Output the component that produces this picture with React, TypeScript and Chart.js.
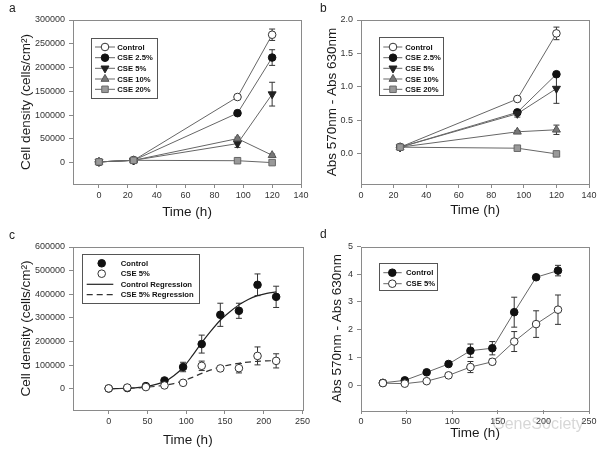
import React, { useEffect, useRef } from 'react';
import { Chart, registerables } from 'chart.js';
import { drawPoint } from 'chart.js/helpers';

Chart.register(...registerables);

// ---------------- Data ----------------
// Panel a: cell density
const A_TIME = [0, 24, 96, 120];
const A_LABELS = ['Control', 'CSE 2.5%', 'CSE 5%', 'CSE 10%', 'CSE 20%'];
const A_CONTROL = [1500, 4800, 138000, 269000];
const A_CSE2_5 = [1500, 4800, 104000, 221000];
const A_CSE5 = [1500, 4800, 40000, 144000];
const A_CSE10 = [1500, 4800, 50500, 15500];
const A_CSE20 = [1500, 4800, 4000, 0];
const A_CONTROL_ERR = [0, 0, 3000, 12000];
const A_CSE2_5_ERR = [0, 0, 3000, 16500];
const A_CSE5_ERR = [0, 0, 8000, 25000];
const A_CSE10_ERR = [0, 0, 3000, 2500];
const A_CSE20_ERR = [0, 0, 2000, 1000];
const A_X_TICKS = [0, 20, 40, 60, 80, 100, 120, 140];
const A_Y_TICKS = [0, 50000, 100000, 150000, 200000, 250000, 300000];

// Panel b: absorbance
const B_TIME = [24, 96, 120];
const B_CONTROL = [0.1, 0.82, 1.8];
const B_CSE2_5 = [0.1, 0.62, 1.19];
const B_CSE5 = [0.1, 0.6, 0.975];
const B_CSE10 = [0.1, 0.33, 0.36];
const B_CSE20 = [0.1, 0.085, 0.0];
const B_CONTROL_ERR = [0, 0.02, 0.094];
const B_CSE2_5_ERR = [0, 0.02, 0.03];
const B_CSE5_ERR = [0, 0.05, 0.22];
const B_CSE10_ERR = [0, 0.02, 0.07];
const B_CSE20_ERR = [0, 0.01, 0.01];
const B_X_TICKS = [0, 20, 40, 60, 80, 100, 120, 140];
const B_Y_TICKS = [0, 0.5, 1.0, 1.5, 2.0];

// Panel c: cell density time course with regression
const C_LABELS = ['Control', 'CSE 5%', 'Control Regression', 'CSE 5% Regression'];
const C_TIME = [0, 24, 48, 72, 96, 120, 144, 168, 192, 216];
const C_CONTROL = [1000, 3000, 11000, 35000, 92000, 189000, 313000, 330000, 440000, 389000];
const C_CONTROL_ERR = [0, 0, 3000, 6000, 20000, 38000, 49000, 32000, 46000, 45000];
const C_CSE5 = [1500, 5000, 7000, 14000, 25000, 97000, 86000, 87000, 139000, 118000];
const C_CSE5_ERR = [0, 0, 2000, 3000, 5000, 20000, 8000, 20000, 38000, 30000];
const C_REG_TIME = [0, 24, 48, 72, 84, 96, 108, 120, 132, 144, 156, 168, 180, 192, 204, 216];
const C_CONTROL_REG = [0, 2000, 9000, 30000, 55000, 90000, 140000, 195000, 245000, 290000, 325000, 355000, 378000, 394000, 404000, 410000];
const C_CSE5_REG = [0, 2000, 6000, 15000, 22000, 33000, 48000, 65000, 80000, 92000, 101000, 108000, 113000, 116000, 118000, 119000];
const C_X_TICKS = [0, 50, 100, 150, 200, 250];
const C_Y_TICKS = [0, 100000, 200000, 300000, 400000, 500000, 600000];

// Panel d: absorbance time course
const D_LABELS = ['Control', 'CSE 5%'];
const D_TIME = [24, 48, 72, 96, 120, 144, 168, 192, 216];
const D_CONTROL = [0.08, 0.17, 0.46, 0.76, 1.24, 1.33, 2.63, 3.89, 4.13];
const D_CONTROL_ERR = [0.02, 0.03, 0.05, 0.06, 0.24, 0.24, 0.54, 0.08, 0.19];
const D_CSE5 = [0.07, 0.05, 0.14, 0.35, 0.65, 0.84, 1.57, 2.2, 2.72];
const D_CSE5_ERR = [0.02, 0.02, 0.03, 0.06, 0.2, 0.1, 0.36, 0.48, 0.53];
const D_X_TICKS = [0, 50, 100, 150, 200, 250];
const D_Y_TICKS = [0, 1, 2, 3, 4, 5];

// ---------------- Styles ----------------
const FAMILY = '"Liberation Sans", Arial, Helvetica, sans-serif';
const AXIS = '#8a8a8a';
const TICK = '#333';
const TITLE = '#1a1a1a';
const LINE = '#666';

const MARK: Record<string, any> = {
  open: { pointStyle: 'circle', pointRadius: 3.8, pointBackgroundColor: '#fff', pointBorderColor: '#333', pointBorderWidth: 1, pointRotation: 0 },
  filled: { pointStyle: 'circle', pointRadius: 3.8, pointBackgroundColor: '#111', pointBorderColor: '#111', pointBorderWidth: 1, pointRotation: 0 },
  triDown: { pointStyle: 'triangle', pointRadius: 4.6, pointBackgroundColor: '#222', pointBorderColor: '#222', pointBorderWidth: 1, pointRotation: 180 },
  triUp: { pointStyle: 'triangle', pointRadius: 4.6, pointBackgroundColor: '#777', pointBorderColor: '#555', pointBorderWidth: 1, pointRotation: 0 },
  square: { pointStyle: 'rect', pointRadius: 4.6, pointBackgroundColor: '#999', pointBorderColor: '#666', pointBorderWidth: 1, pointRotation: 0 },
};

const pts = (xs: number[], ys: number[]) => xs.map((x, i) => ({ x, y: ys[i] }));

function series(label: string, xs: number[], ys: number[], errs: number[] | null, mark: string, order: number, extra: any = {}) {
  return {
    label,
    data: pts(xs, ys),
    errors: errs,
    order,
    borderColor: LINE,
    borderWidth: 1,
    showLine: true,
    ...MARK[mark],
    ...extra,
  };
}

// ---------------- Plugin ----------------
const decoPlugin = {
  id: 'deco',
  beforeDatasetsDraw(chart: any, _a: any, opts: any) {
    const ctx = chart.ctx;
    const a = chart.chartArea;
    ctx.save();
    ctx.strokeStyle = AXIS;
    ctx.lineWidth = 1;
    ctx.strokeRect(Math.round(a.left) + 0.5, Math.round(a.top) + 0.5, Math.round(a.right - a.left), Math.round(a.bottom - a.top));
    const xs = chart.scales.x;
    const ys = chart.scales.y;
    ctx.strokeStyle = '#333';
    chart.data.datasets.forEach((ds: any) => {
      if (!ds.errors) return;
      ds.data.forEach((p: any, i: number) => {
        const e = ds.errors[i];
        if (!e) return;
        const px = xs.getPixelForValue(p.x);
        const y1 = ys.getPixelForValue(p.y + e);
        const y2 = ys.getPixelForValue(p.y - e);
        ctx.beginPath();
        ctx.moveTo(px, y1);
        ctx.lineTo(px, y2);
        ctx.moveTo(px - 3, y1);
        ctx.lineTo(px + 3, y1);
        ctx.moveTo(px - 3, y2);
        ctx.lineTo(px + 3, y2);
        ctx.stroke();
      });
    });
    ctx.restore();
  },
  afterDraw(chart: any, _a: any, opts: any) {
    const ctx = chart.ctx;
    ctx.save();
    // panel tag
    ctx.fillStyle = '#222';
    ctx.font = `12px ${FAMILY}`;
    ctx.textBaseline = 'middle';
    ctx.textAlign = 'left';
    ctx.fillText(opts.tag, opts.tagX, opts.tagY);
    // legend
    const lg = opts.legend;
    if (lg) {
      const [bx, by, bw, bh] = lg.box;
      ctx.fillStyle = '#fff';
      ctx.fillRect(bx, by, bw, bh);
      ctx.strokeStyle = '#555';
      ctx.lineWidth = 1;
      ctx.strokeRect(Math.round(bx) + 0.5, Math.round(by) + 0.5, Math.round(bw), Math.round(bh));
      lg.items.forEach((di: number, r: number) => {
        const ds = chart.data.datasets[di];
        const y = lg.rows[r];
        if (ds.showLine !== false) {
          ctx.save();
          ctx.strokeStyle = ds.borderColor;
          ctx.lineWidth = ds.borderWidth;
          ctx.setLineDash(ds.borderDash || []);
          ctx.beginPath();
          ctx.moveTo(lg.line[0], y);
          ctx.lineTo(lg.line[1], y);
          ctx.stroke();
          ctx.restore();
        }
        if (ds.pointRadius > 0) {
          ctx.save();
          ctx.fillStyle = ds.pointBackgroundColor;
          ctx.strokeStyle = ds.pointBorderColor;
          ctx.lineWidth = ds.pointBorderWidth;
          drawPoint(ctx, { pointStyle: ds.pointStyle, rotation: ds.pointRotation || 0, radius: ds.pointRadius, borderWidth: ds.pointBorderWidth }, lg.marker, y);
          ctx.restore();
        }
        ctx.fillStyle = '#111';
        ctx.font = `bold 7.7px ${FAMILY}`;
        ctx.textBaseline = 'middle';
        ctx.textAlign = 'left';
        ctx.fillText(ds.label, lg.text, y + 0.5);
      });
    }
    if (opts.watermark) {
      ctx.fillStyle = 'rgba(140,140,140,0.35)';
      ctx.font = `16px ${FAMILY}`;
      ctx.textAlign = 'center';
      ctx.textBaseline = 'middle';
      ctx.fillText(opts.watermark.text, opts.watermark.x, opts.watermark.y);
    }
    ctx.restore();
  },
};

// ---------------- Config builder ----------------
type Geo = {
  ox: number; oy: number; L: number; T: number; R: number; B: number;
  yTitleX: number; xTitleY: number;
};

function makeConfig(
  geo: Geo,
  xr: [number, number], xTicks: number[],
  yr: [number, number], yTicks: number[], yFmt: (v: number) => string,
  yTitle: string, datasets: any[], deco: any,
) {
  const regionBottom = geo.oy + 225 >= 450 ? 451 : geo.oy + 225;
  const titleFont = { family: FAMILY, size: 13.5 };
  const tickFont = { family: FAMILY, size: 9 };
  const half = (13.5 * 1.2) / 2;
  return {
    type: 'line',
    data: { datasets },
    options: {
      responsive: false,
      animation: false,
      devicePixelRatio: 1,
      events: [],
      layout: { padding: { left: geo.ox, top: geo.T, right: 600 - geo.R, bottom: 451 - regionBottom } },
      elements: { line: { tension: 0 } },
      plugins: {
        legend: { display: false },
        tooltip: { enabled: false },
        deco,
      },
      scales: {
        x: {
          type: 'linear', position: 'bottom', min: xr[0], max: xr[1],
          afterBuildTicks: (s: any) => { s.ticks = xTicks.map((v) => ({ value: v })); },
          afterFit: (s: any) => { s.height = regionBottom - geo.B; },
          grid: { display: true, drawOnChartArea: false, drawTicks: true, tickLength: 4, color: AXIS, lineWidth: 1 },
          border: { display: false },
          ticks: { font: tickFont, color: TICK, padding: 2, maxRotation: 0, autoSkip: false, callback: (v: any) => String(v) },
          title: { display: true, text: 'Time (h)', font: titleFont, color: TITLE, padding: { top: 0, bottom: regionBottom - geo.xTitleY - half } },
        },
        y: {
          type: 'linear', position: 'left', min: yr[0], max: yr[1],
          afterBuildTicks: (s: any) => { s.ticks = yTicks.map((v) => ({ value: v })); },
          afterFit: (s: any) => { s.width = geo.L - geo.ox; },
          grid: { display: true, drawOnChartArea: false, drawTicks: true, tickLength: 4, color: AXIS, lineWidth: 1 },
          border: { display: false },
          ticks: { font: tickFont, color: TICK, padding: 4, autoSkip: false, callback: (v: any) => yFmt(Number(v)) },
          title: { display: true, text: yTitle, font: titleFont, color: TITLE, padding: { top: geo.yTitleX - geo.ox - half, bottom: 0 } },
        },
      },
    },
    plugins: [decoPlugin],
  };
}

const intFmt = (v: number) => String(Math.round(v));
const oneDec = (v: number) => v.toFixed(1);

const configA = () => makeConfig(
  { ox: 0, oy: 0, L: 73, T: 20, R: 301, B: 184, yTitleX: 26.7, xTitleY: 212.7 },
  [-18, 140], A_X_TICKS, [-45000, 300000], A_Y_TICKS, intFmt,
  'Cell density (cells/cm²)',
  [
    series(A_LABELS[0], A_TIME, A_CONTROL, A_CONTROL_ERR, 'open', 5),
    series(A_LABELS[1], A_TIME, A_CSE2_5, A_CSE2_5_ERR, 'filled', 4),
    series(A_LABELS[2], A_TIME, A_CSE5, A_CSE5_ERR, 'triDown', 3),
    series(A_LABELS[3], A_TIME, A_CSE10, A_CSE10_ERR, 'triUp', 2),
    series(A_LABELS[4], A_TIME, A_CSE20, A_CSE20_ERR, 'square', 1),
  ],
  {
    tag: 'a', tagX: 9, tagY: 8.5,
    legend: { box: [91, 37.7, 65.7, 60], rows: [47, 57.7, 68.3, 79, 89.3], line: [95, 115], marker: 105, text: 117.3, items: [0, 1, 2, 3, 4] },
  },
);

const configB = () => makeConfig(
  { ox: 300, oy: 0, L: 361, T: 20, R: 589, B: 184, yTitleX: 332.3, xTitleY: 210.3 },
  [0, 140], B_X_TICKS, [-0.45, 2.0], B_Y_TICKS, oneDec,
  'Abs 570nm - Abs 630nm',
  [
    series(A_LABELS[0], B_TIME, B_CONTROL, B_CONTROL_ERR, 'open', 5),
    series(A_LABELS[1], B_TIME, B_CSE2_5, B_CSE2_5_ERR, 'filled', 4),
    series(A_LABELS[2], B_TIME, B_CSE5, B_CSE5_ERR, 'triDown', 3),
    series(A_LABELS[3], B_TIME, B_CSE10, B_CSE10_ERR, 'triUp', 2),
    series(A_LABELS[4], B_TIME, B_CSE20, B_CSE20_ERR, 'square', 1),
  ],
  {
    tag: 'b', tagX: 320, tagY: 8.5,
    legend: { box: [379, 36.7, 64.3, 57.6], rows: [47, 57.7, 68.3, 79, 89.3], line: [383.3, 402.3], marker: 393, text: 405.3, items: [0, 1, 2, 3, 4] },
  },
);

const configC = () => makeConfig(
  { ox: 0, oy: 225, L: 73, T: 247, R: 302.5, B: 410, yTitleX: 26.7, xTitleY: 440.5 },
  [-46, 250], C_X_TICKS, [-90000, 600000], C_Y_TICKS, intFmt,
  'Cell density (cells/cm²)',
  [
    series(C_LABELS[0], C_TIME, C_CONTROL, C_CONTROL_ERR, 'filled', 2, { showLine: false }),
    series(C_LABELS[1], C_TIME, C_CSE5, C_CSE5_ERR, 'open', 1, { showLine: false }),
    series(C_LABELS[2], C_REG_TIME, C_CONTROL_REG, null, 'filled', 4, { pointRadius: 0, borderColor: '#222', borderWidth: 1.2, cubicInterpolationMode: 'monotone' }),
    series(C_LABELS[3], C_REG_TIME, C_CSE5_REG, null, 'filled', 3, { pointRadius: 0, borderColor: '#333', borderWidth: 1.2, borderDash: [6, 4], cubicInterpolationMode: 'monotone' }),
  ],
  {
    tag: 'c', tagX: 9, tagY: 235.5,
    legend: { box: [82.3, 254, 117, 49], rows: [263.3, 273.7, 284.3, 294.7], line: [86.7, 113.3], marker: 101.7, text: 120.7, items: [0, 1, 2, 3] },
  },
);

const configD = () => makeConfig(
  { ox: 300, oy: 225, L: 361, T: 246.5, R: 589, B: 410, yTitleX: 337.5, xTitleY: 433 },
  [0, 250], D_X_TICKS, [-0.9, 5], D_Y_TICKS, intFmt,
  'Abs 570nm - Abs 630nm',
  [
    series(D_LABELS[0], D_TIME, D_CONTROL, D_CONTROL_ERR, 'filled', 2),
    series(D_LABELS[1], D_TIME, D_CSE5, D_CSE5_ERR, 'open', 1),
  ],
  {
    tag: 'd', tagX: 320, tagY: 235,
    legend: { box: [379, 262.7, 58.3, 26.6], rows: [272.7, 283.7], line: [383.3, 401.7], marker: 392.3, text: 406, items: [0, 1] },
    watermark: { text: 'GeneSociety', x: 538, y: 425 },
  },
);

function Panel({ make }: { make: () => any }) {
  const ref = useRef<HTMLCanvasElement>(null);
  useEffect(() => {
    const chart = new Chart(ref.current as HTMLCanvasElement, make() as any);
    return () => chart.destroy();
  }, [make]);
  return (
    <canvas
      ref={ref}
      width={600}
      height={451}
      style={{ position: 'absolute', left: 0, top: 0, width: 600, height: 451 }}
    />
  );
}

export default function App() {
  return (
    <div style={{ position: 'absolute', left: 0, top: 0, width: 600, height: 451, background: '#fff', overflow: 'hidden' }}>
      <Panel make={configA} />
      <Panel make={configB} />
      <Panel make={configC} />
      <Panel make={configD} />
    </div>
  );
}
